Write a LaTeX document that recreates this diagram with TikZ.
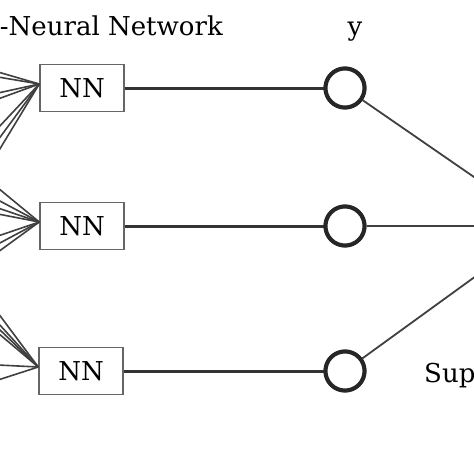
\documentclass[tikz,border=0pt]{standalone}
\usepackage{fontspec}
\setmainfont{DejaVu Serif}
\begin{document}
\begin{tikzpicture}[x=1pt,y=-1pt,
  nnbox/.style={draw=black!60, line width=1.5pt, minimum width=84pt, minimum height=47pt, inner sep=0pt, font=\fontsize{26}{28}\selectfont, fill=white},
  outnode/.style={circle, draw=black!85, line width=4pt, minimum size=39pt, inner sep=0pt},
  fan/.style={draw=black!75, line width=1.6pt},
  thickline/.style={draw=black!80, line width=3pt},
  thinline/.style={draw=black!75, line width=1.8pt},
  lbl/.style={font=\fontsize{26}{28}\selectfont, inner sep=0pt}]
\useasboundingbox (0,0) rectangle (474,474);
\clip (0,0) rectangle (474,474);
% boxes
\node[nnbox] (nn1) at (82,88) {NN};
\node[nnbox] (nn2) at (82,226) {NN};
\node[nnbox] (nn3) at (81,371) {NN};
% circles
\node[outnode] (y1) at (345,88) {};
\node[outnode] (y2) at (345,226) {};
\node[outnode] (y3) at (345,371) {};
% convergence point (outside the picture)
\coordinate (sup) at (545,226);
% fan-in coordinates
\foreach \i/\yy in {1/72,2/77,3/93,4/99,5/128,6/140,7/152}{\coordinate (a\i) at (-2,\yy);}
\foreach \i/\yy in {1/188,2/200,3/208,4/214,5/236,6/244,7/252}{\coordinate (b\i) at (-2,\yy);}
\foreach \i/\yy in {1/313,2/323,3/328,4/333,5/365,6/380}{\coordinate (c\i) at (-2,\yy);}
\foreach \i in {1,...,7}{\draw[fan] (a\i) -- ([yshift=4pt]nn1.west);}
\foreach \i in {1,...,7}{\draw[fan] (b\i) -- ([yshift=4pt]nn2.west);}
\foreach \i in {1,...,6}{\draw[fan] (c\i) -- ([yshift=4pt]nn3.west);}
% box to circle
\draw[thickline] (nn1.east) -- (y1.west);
\draw[thickline] (nn2.east) -- (y2.west);
\draw[thickline] (nn3.east) -- (y3.west);
% circle to convergence
\draw[thinline] (y1) -- (sup);
\draw[thinline] (y2) -- (sup);
\draw[thinline] (y3) -- (sup);
% redraw circles on top
\node[outnode, fill=white] at (y1) {};
\node[outnode, fill=white] at (y2) {};
\node[outnode, fill=white] at (y3) {};
% labels
\node[lbl, anchor=base east] (title) at (223,35) {-Neural Network};
\node[lbl, anchor=base] (ylab) at (355,35) {y};
\node[lbl, anchor=base west] (suplab) at (424,382) {Sup};
\end{tikzpicture}
\end{document}
